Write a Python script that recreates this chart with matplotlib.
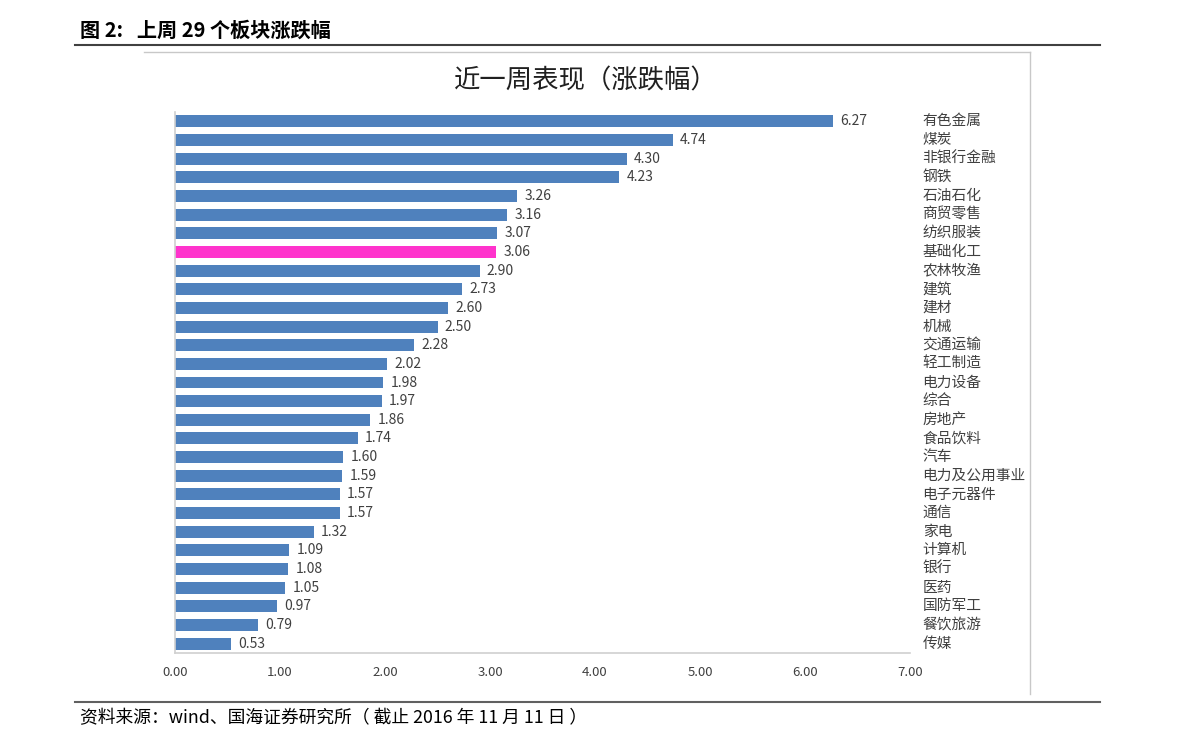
import matplotlib
matplotlib.use("Agg")
import matplotlib.pyplot as plt
from matplotlib.lines import Line2D

plt.rcParams['font.family'] = ['Noto Sans CJK SC', 'DejaVu Sans']

categories = ["有色金属", "煤炭", "非银行金融", "钢铁", "石油石化", "商贸零售", "纺织服装",
              "基础化工", "农林牧渔", "建筑", "建材", "机械", "交通运输", "轻工制造",
              "电力设备", "综合", "房地产", "食品饮料", "汽车", "电力及公用事业",
              "电子元器件", "通信", "家电", "计算机", "银行", "医药", "国防军工",
              "餐饮旅游", "传媒"]
values = [6.27, 4.74, 4.30, 4.23, 3.26, 3.16, 3.07, 3.06, 2.90, 2.73, 2.60, 2.50,
          2.28, 2.02, 1.98, 1.97, 1.86, 1.74, 1.60, 1.59, 1.57, 1.57, 1.32, 1.09,
          1.08, 1.05, 0.97, 0.79, 0.53]
highlight = "基础化工"
xticks = [0, 1, 2, 3, 4, 5, 6, 7]

W, H = 1191, 748
fig = plt.figure(figsize=(W / 100, H / 100), dpi=100)

def fx(px):
    return px / W

def fy(py):
    return 1 - py / H

ax = fig.add_axes([fx(175), fy(653), fx(910) - fx(175), fy(112) - fy(653)])
n = len(categories)
ypos = list(range(n))[::-1]
colors = ["#FF33CC" if c == highlight else "#4F81BD" for c in categories]
ax.barh(ypos, values, height=0.64, color=colors)
ax.set_xlim(0, 7)
ax.set_ylim(-0.5, n - 0.5)
ax.set_xticks(xticks)
ax.set_xticklabels([f"{t:.2f}" for t in xticks], fontsize=9.5, color="#404040")
ax.tick_params(axis='x', length=0, pad=9)
ax.set_yticks([])
for s in ["top", "right"]:
    ax.spines[s].set_visible(False)
for s in ["left", "bottom"]:
    ax.spines[s].set_color("#D0D0D0")
    ax.spines[s].set_linewidth(1.2)

for y, v, c in zip(ypos, values, categories):
    ax.text(v + 0.07, y, f"{v:.2f}", va="center", ha="left", fontsize=10, color="#404040")
    ax.text(7.12, y, c, va="center", ha="left", fontsize=10.6, color="#404040")

fig.text(fx(586), fy(81), "近一周表现（涨跌幅）", ha="center", va="center", fontsize=19, color="#202020")

fig.text(fx(80), fy(30), "图 2:   上周 29 个板块涨跌幅", ha="left", va="center", fontsize=14.5,
         fontweight="bold", color="#000000")
fig.add_artist(Line2D([fx(75), fx(1100)], [fy(45), fy(45)], color="#404040", lw=1.5))

fig.add_artist(Line2D([fx(144), fx(1030)], [fy(52), fy(52)], color="#C8C8C8", lw=1))
fig.add_artist(Line2D([fx(1030), fx(1030)], [fy(52), fy(694)], color="#C8C8C8", lw=1))

fig.add_artist(Line2D([fx(75), fx(1100)], [fy(702), fy(702)], color="#606060", lw=1.5))
fig.text(fx(80), fy(718), "资料来源：wind、国海证券研究所（ 截止 2016 年 11 月 11 日 ）", ha="left",
         va="center", fontsize=12.8, color="#000000")

fig.savefig("out.png", dpi=100)
